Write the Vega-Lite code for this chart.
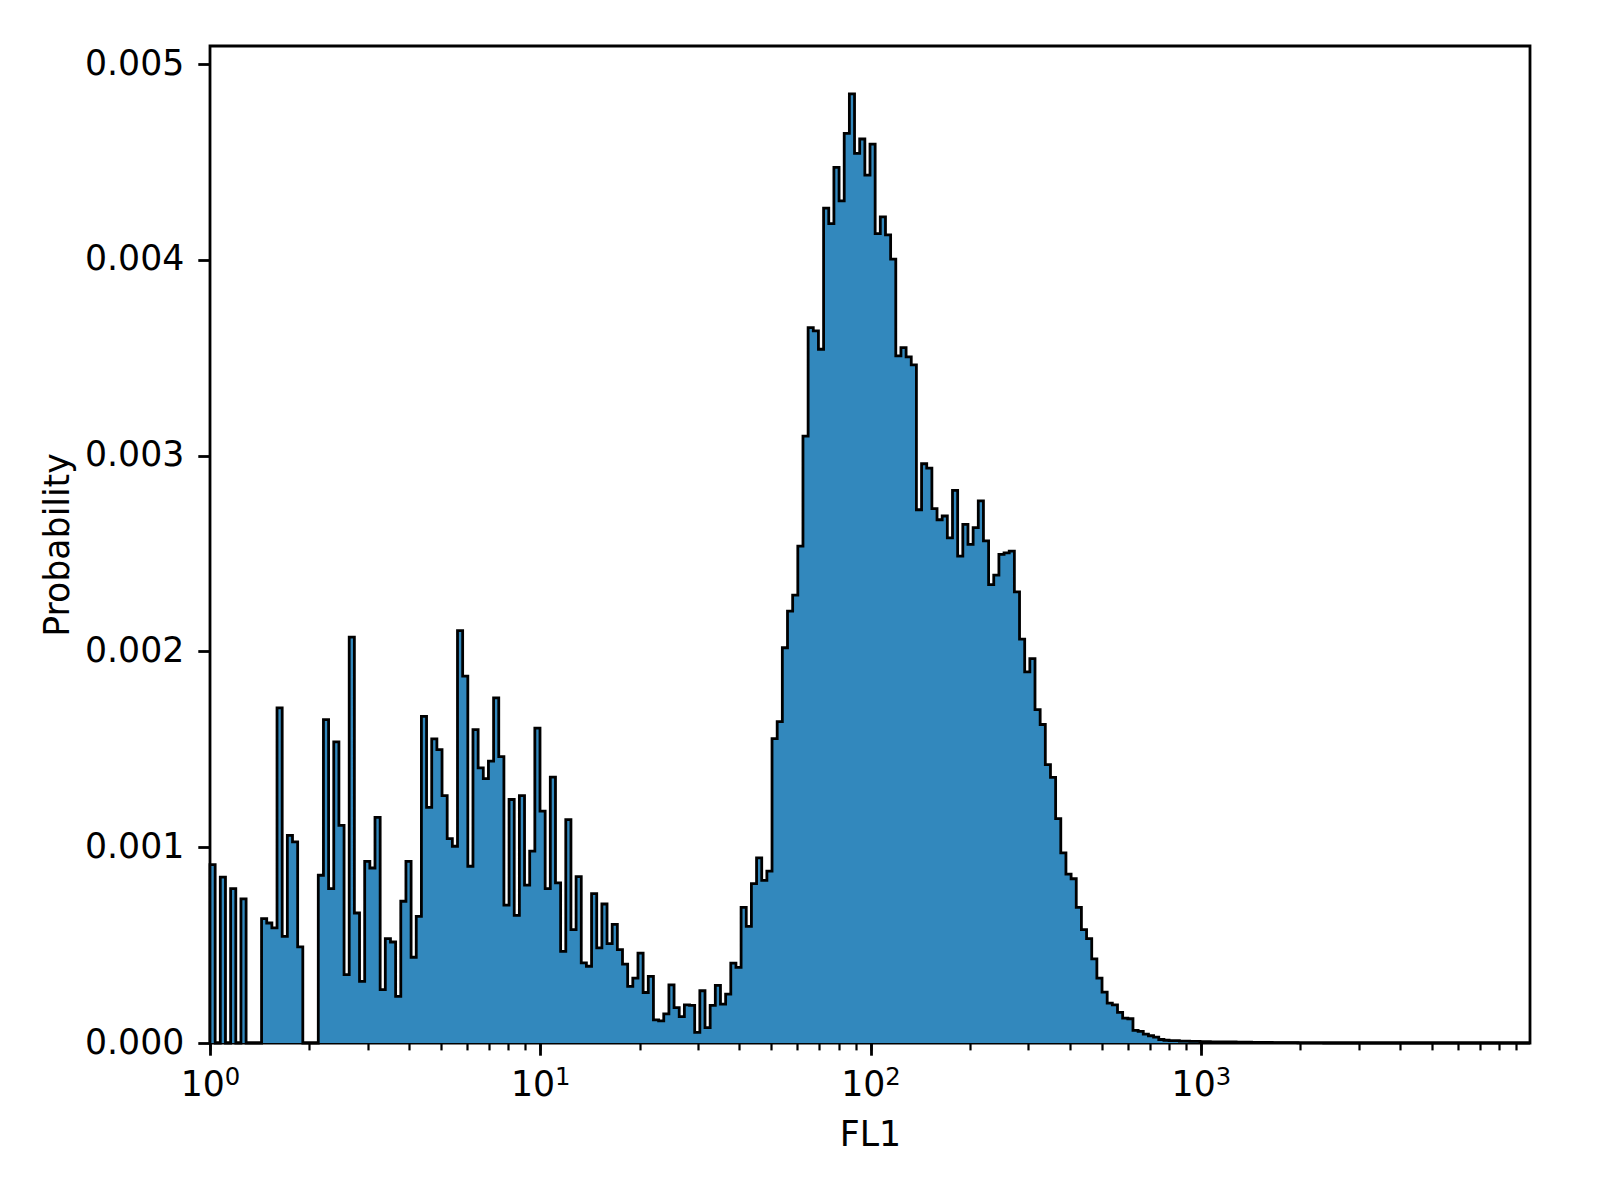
{
  "$schema": "https://vega.github.io/schema/vega-lite/v6.json",
  "autosize": {"type": "none"},
  "width": 1320,
  "height": 997,
  "padding": {"left": 210, "top": 46, "right": 70, "bottom": 157},
  "background": "white",
  "config": {
    "view": {"stroke": "black", "strokeWidth": 2.8},
    "font": "DejaVu Sans",
    "axis": {"grid": false, "domain": false, "labelFont": "DejaVu Sans", "titleFont": "DejaVu Sans", "labelColor": "black", "titleColor": "black", "tickColor": "black", "titleFontWeight": "normal"}
  },
  "data": {"values": [
    {"i":0,"x":1,"p":0},
    {"i":1,"x":1,"p":0.000911},{"i":2,"x":1.0366,"p":0},{"i":3,"x":1.0745,"p":0.000847},{"i":4,"x":1.1139,"p":0},{"i":5,"x":1.1546,"p":0.000789},{"i":6,"x":1.1969,"p":0},{"i":7,"x":1.2407,"p":0.000736},{"i":8,"x":1.2861,"p":0},{"i":9,"x":1.3332,"p":0},{"i":10,"x":1.3819,"p":0},
    {"i":11,"x":1.4325,"p":0.000635},{"i":12,"x":1.4849,"p":0.000613},{"i":13,"x":1.5393,"p":0.000588},{"i":14,"x":1.5956,"p":0.001712},{"i":15,"x":1.654,"p":0.000545},{"i":16,"x":1.7145,"p":0.001061},{"i":17,"x":1.7773,"p":0.001027},{"i":18,"x":1.8423,"p":0.000491},{"i":19,"x":1.9097,"p":0},{"i":20,"x":1.9796,"p":0},
    {"i":21,"x":2.0521,"p":0},{"i":22,"x":2.1272,"p":0.000857},{"i":23,"x":2.205,"p":0.001652},{"i":24,"x":2.2857,"p":0.000789},{"i":25,"x":2.3694,"p":0.001538},{"i":26,"x":2.4561,"p":0.001112},{"i":27,"x":2.546,"p":0.000349},{"i":28,"x":2.6391,"p":0.002073},{"i":29,"x":2.7357,"p":0.000664},{"i":30,"x":2.8358,"p":0.000315},
    {"i":31,"x":2.9396,"p":0.000928},{"i":32,"x":3.0472,"p":0.000894},{"i":33,"x":3.1587,"p":0.001153},{"i":34,"x":3.2743,"p":0.000273},{"i":35,"x":3.3941,"p":0.000533},{"i":36,"x":3.5184,"p":0.000516},{"i":37,"x":3.6471,"p":0.000238},{"i":38,"x":3.7806,"p":0.000724},{"i":39,"x":3.919,"p":0.000928},{"i":40,"x":4.0624,"p":0.000438},
    {"i":41,"x":4.211,"p":0.000647},{"i":42,"x":4.3652,"p":0.001669},{"i":43,"x":4.5249,"p":0.001204},{"i":44,"x":4.6905,"p":0.001554},{"i":45,"x":4.8622,"p":0.001499},{"i":46,"x":5.0401,"p":0.001264},{"i":47,"x":5.2245,"p":0.001044},{"i":48,"x":5.4157,"p":0.001005},{"i":49,"x":5.6139,"p":0.002107},{"i":50,"x":5.8194,"p":0.001874},
    {"i":51,"x":6.0324,"p":0.000903},{"i":52,"x":6.2531,"p":0.001601},{"i":53,"x":6.482,"p":0.001405},{"i":54,"x":6.7192,"p":0.001351},{"i":55,"x":6.9651,"p":0.00144},{"i":56,"x":7.22,"p":0.001763},{"i":57,"x":7.4842,"p":0.001463},{"i":58,"x":7.7581,"p":0.000704},{"i":59,"x":8.042,"p":0.001244},{"i":60,"x":8.3363,"p":0.000652},
    {"i":61,"x":8.6414,"p":0.001264},{"i":62,"x":8.9576,"p":0.000806},{"i":63,"x":9.2855,"p":0.00098},{"i":64,"x":9.6253,"p":0.001608},{"i":65,"x":9.9775,"p":0.001184},{"i":66,"x":10.343,"p":0.000789},{"i":67,"x":10.721,"p":0.001358},{"i":68,"x":11.114,"p":0.000818},{"i":69,"x":11.52,"p":0.000468},{"i":70,"x":11.942,"p":0.001141},
    {"i":71,"x":12.379,"p":0.000579},{"i":72,"x":12.832,"p":0.00085},{"i":73,"x":13.302,"p":0.000409},{"i":74,"x":13.788,"p":0.000392},{"i":75,"x":14.293,"p":0.000763},{"i":76,"x":14.816,"p":0.000486},{"i":77,"x":15.358,"p":0.00071},{"i":78,"x":15.92,"p":0.000508},{"i":79,"x":16.503,"p":0.000606},{"i":80,"x":17.107,"p":0.000477},
    {"i":81,"x":17.733,"p":0.000403},{"i":82,"x":18.382,"p":0.000289},{"i":83,"x":19.054,"p":0.000331},{"i":84,"x":19.752,"p":0.000459},{"i":85,"x":20.475,"p":0.000258},{"i":86,"x":21.224,"p":0.00034},{"i":87,"x":22.001,"p":0.000118},{"i":88,"x":22.806,"p":0.000113},{"i":89,"x":23.64,"p":0.000149},{"i":90,"x":24.506,"p":0.000297},
    {"i":91,"x":25.402,"p":0.000181},{"i":92,"x":26.332,"p":0.000135},{"i":93,"x":27.296,"p":0.000195},{"i":94,"x":28.295,"p":0.000192},{"i":95,"x":29.33,"p":0.000054},{"i":96,"x":30.404,"p":0.000267},{"i":97,"x":31.516,"p":0.000079},{"i":98,"x":32.67,"p":0.000192},{"i":99,"x":33.865,"p":0.000294},{"i":100,"x":35.105,"p":0.000199},
    {"i":101,"x":36.389,"p":0.00025},{"i":102,"x":37.721,"p":0.000408},{"i":103,"x":39.101,"p":0.000386},{"i":104,"x":40.532,"p":0.000693},{"i":105,"x":42.016,"p":0.000596},{"i":106,"x":43.554,"p":0.000814},{"i":107,"x":45.147,"p":0.000946},{"i":108,"x":46.8,"p":0.000831},{"i":109,"x":48.512,"p":0.000878},{"i":110,"x":50.288,"p":0.001555},
    {"i":111,"x":52.128,"p":0.001642},{"i":112,"x":54.036,"p":0.002019},{"i":113,"x":56.013,"p":0.002206},{"i":114,"x":58.063,"p":0.002288},{"i":115,"x":60.188,"p":0.002538},{"i":116,"x":62.391,"p":0.0031},{"i":117,"x":64.674,"p":0.003654},{"i":118,"x":67.041,"p":0.003638},{"i":119,"x":69.494,"p":0.003544},{"i":120,"x":72.037,"p":0.004265},
    {"i":121,"x":74.674,"p":0.004186},{"i":122,"x":77.407,"p":0.004473},{"i":123,"x":80.239,"p":0.004302},{"i":124,"x":83.176,"p":0.004647},{"i":125,"x":86.22,"p":0.004848},{"i":126,"x":89.375,"p":0.004545},{"i":127,"x":92.646,"p":0.004618},{"i":128,"x":96.036,"p":0.004433},{"i":129,"x":99.551,"p":0.004592},{"i":130,"x":103.19,"p":0.004135},
    {"i":131,"x":106.97,"p":0.00422},{"i":132,"x":110.89,"p":0.004128},{"i":133,"x":114.94,"p":0.004004},{"i":134,"x":119.15,"p":0.00351},{"i":135,"x":123.51,"p":0.003552},{"i":136,"x":128.03,"p":0.003505},{"i":137,"x":132.72,"p":0.003464},{"i":138,"x":137.57,"p":0.002724},{"i":139,"x":142.61,"p":0.002959},{"i":140,"x":147.83,"p":0.002937},
    {"i":141,"x":153.24,"p":0.00273},{"i":142,"x":158.84,"p":0.002673},{"i":143,"x":164.66,"p":0.002692},{"i":144,"x":170.68,"p":0.00258},{"i":145,"x":176.93,"p":0.002823},{"i":146,"x":183.4,"p":0.002487},{"i":147,"x":190.12,"p":0.002649},{"i":148,"x":197.07,"p":0.002547},{"i":149,"x":204.29,"p":0.002633},{"i":150,"x":211.76,"p":0.002769},
    {"i":151,"x":219.51,"p":0.002565},{"i":152,"x":227.55,"p":0.002342},{"i":153,"x":235.87,"p":0.00239},{"i":154,"x":244.51,"p":0.002496},{"i":155,"x":253.45,"p":0.002504},{"i":156,"x":262.73,"p":0.002513},{"i":157,"x":272.34,"p":0.002305},{"i":158,"x":282.31,"p":0.002063},{"i":159,"x":292.64,"p":0.001896},{"i":160,"x":303.35,"p":0.001964},
    {"i":161,"x":314.45,"p":0.001703},{"i":162,"x":325.96,"p":0.001627},{"i":163,"x":337.89,"p":0.001422},{"i":164,"x":350.26,"p":0.001357},{"i":165,"x":363.08,"p":0.001146},{"i":166,"x":376.36,"p":0.000971},{"i":167,"x":390.14,"p":0.000863},{"i":168,"x":404.41,"p":0.000839},{"i":169,"x":419.21,"p":0.000693},{"i":170,"x":434.56,"p":0.000579},
    {"i":171,"x":450.46,"p":0.000533},{"i":172,"x":466.94,"p":0.00043},{"i":173,"x":484.03,"p":0.000331},{"i":174,"x":501.72,"p":0.00026},{"i":175,"x":520.1,"p":0.000204},{"i":176,"x":539.11,"p":0.000195},{"i":177,"x":558.87,"p":0.000156},{"i":178,"x":579.33,"p":0.000127},{"i":179,"x":600.53,"p":0.000124},{"i":180,"x":622.51,"p":0.000064},
    {"i":181,"x":645.28,"p":0.000059},{"i":182,"x":668.9,"p":0.000045},{"i":183,"x":693.37,"p":0.000037},{"i":184,"x":718.75,"p":0.00003},{"i":185,"x":745.06,"p":0.000018},{"i":186,"x":772.33,"p":0.000014},{"i":187,"x":800.56,"p":0.000012},{"i":188,"x":829.87,"p":0.000012},{"i":189,"x":860.24,"p":0.00001},{"i":190,"x":891.74,"p":0.00001},
    {"i":191,"x":924.37,"p":0.000008},{"i":192,"x":958.2,"p":0.000008},{"i":193,"x":993.28,"p":0.000007},{"i":194,"x":1029.6,"p":0.000007},{"i":195,"x":1067.3,"p":0.000006},{"i":196,"x":1106.4,"p":0.000006},{"i":197,"x":1146.9,"p":0.000005},{"i":198,"x":1188.8,"p":0.000005},{"i":199,"x":1232.3,"p":0.000005},{"i":200,"x":1277.4,"p":0.000004},
    {"i":201,"x":1324.2,"p":0.000004},{"i":202,"x":1372.7,"p":0.000004},{"i":203,"x":1422.9,"p":0.000003},{"i":204,"x":1475,"p":0.000003},{"i":205,"x":1528.9,"p":0.000003},{"i":206,"x":1584.9,"p":0.000003},{"i":207,"x":1642.9,"p":0.000002},{"i":208,"x":1703,"p":0.000002},{"i":209,"x":1765.3,"p":0.000002},{"i":210,"x":1829.9,"p":0.000002},
    {"i":211,"x":1896.9,"p":0.000002},{"i":212,"x":1966.3,"p":0.000001},{"i":213,"x":2038.3,"p":0.000001},{"i":214,"x":2112.9,"p":0.000001},{"i":215,"x":2190.2,"p":0.000001},{"i":216,"x":2270.4,"p":0.000001},{"i":217,"x":2353.5,"p":0},
    {"i":218,"x":9910.4,"p":0}
  ]},
  "resolve": {"axis": {"x": "independent"}},
  "layer": [
    {
      "mark": {"type": "area", "interpolate": "step-after", "color": "#3288bd", "opacity": 1},
      "encoding": {
        "x": {"field": "x", "type": "quantitative",
          "scale": {"type": "log", "domain": [1, 9910.4], "nice": false},
          "axis": {"orient": "bottom", "values": [1, 10, 100, 1000], "labelExpr": "'10'",
            "tickSize": 12.2, "tickWidth": 2.8, "labelFontSize": 34.7, "labelPadding": 13.4, "labelOffset": -7.8, "labelFlush": false, "labelOverlap": false,
            "title": "FL1", "titleFontSize": 34.7, "titlePadding": 16}},
        "y": {"field": "p", "type": "quantitative", "stack": null,
          "scale": {"domain": [0, 0.005093], "nice": false, "zero": true},
          "axis": {"values": [0, 0.001, 0.002, 0.003, 0.004, 0.005], "format": ".3f", "tickSize": 12.2, "tickWidth": 2.8,
            "labelFontSize": 34.7, "labelPadding": 14, "title": "Probability", "titleFontSize": 34.7, "titlePadding": 9}}
      }
    },
    {
      "mark": {"type": "line", "interpolate": "step-after", "color": "black", "strokeWidth": 2.8, "strokeJoin": "miter", "strokeCap": "butt"},
      "encoding": {
        "x": {"field": "x", "type": "quantitative",
          "scale": {"type": "log", "domain": [1, 9910.4], "nice": false},
          "axis": {"orient": "bottom", "values": [1,2,3,4,5,6,7,8,9,10,20,30,40,50,60,70,80,90,100,200,300,400,500,600,700,800,900,1000,2000,3000,4000,5000,6000,7000,8000,9000],
            "labelExpr": "datum.value == 1 ? '0' : datum.value == 10 ? '1' : datum.value == 100 ? '2' : datum.value == 1000 ? '3' : ''",
            "labelFontSize": 24.3, "labelAlign": "left", "labelOffset": 14.2, "labelPadding": 15.3, "labelFlush": false, "labelOverlap": false,
            "tickSize": 6.9, "tickWidth": 2.2, "title": null}},
        "y": {"field": "p", "type": "quantitative",
          "scale": {"domain": [0, 0.005093], "nice": false, "zero": true},
          "axis": {"values": [0, 0.001, 0.002, 0.003, 0.004, 0.005], "format": ".3f", "tickSize": 12.2, "tickWidth": 2.8,
            "labelFontSize": 34.7, "labelPadding": 14, "title": "Probability", "titleFontSize": 34.7, "titlePadding": 9}},
        "order": {"field": "i", "type": "quantitative"}
      }
    }
  ]
}
